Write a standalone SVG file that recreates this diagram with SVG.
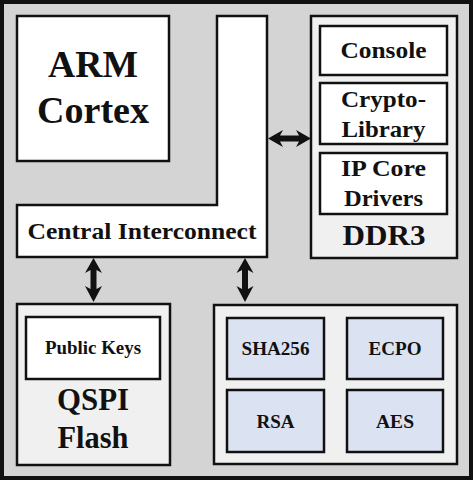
<svg xmlns="http://www.w3.org/2000/svg" width="474" height="481" viewBox="0 0 474 481" font-family="'Liberation Serif', 'Times New Roman', 'DejaVu Serif', serif">
<style>
.box{stroke:#111;stroke-width:2.5}
.w{fill:#fff}
.p{fill:#f0f0f0}
.b{fill:#dbe2f1}
.t{font-weight:bold;fill:#111;text-anchor:middle}
.arr{fill:#111;stroke:none}
</style>
<rect x="2" y="2" width="469" height="476" fill="#d4d4d4" stroke="#111" stroke-width="4"/>
<g id="arm">
<rect class="box w" x="17" y="16" width="152" height="145"/>
<text class="t" x="93" y="77" font-size="38" textLength="90" lengthAdjust="spacingAndGlyphs">ARM</text>
<text class="t" x="93" y="123" font-size="38" textLength="112" lengthAdjust="spacingAndGlyphs">Cortex</text>
</g>
<g id="interconnect">
<path class="box w" d="M17,205 L217,205 L217,16 L267,16 L267,257 L17,257 Z"/>
<text class="t" x="142" y="239" font-size="24" textLength="229" lengthAdjust="spacingAndGlyphs">Central Interconnect</text>
</g>
<g id="ddr3">
<rect class="box p" x="311" y="16" width="146" height="242"/>
<rect class="box w" x="320" y="26" width="127" height="49"/>
<text class="t" x="383.5" y="58" font-size="24" textLength="86" lengthAdjust="spacingAndGlyphs">Console</text>
<rect class="box w" x="320" y="83" width="127" height="61"/>
<text class="t" x="383.5" y="107" font-size="24" textLength="85" lengthAdjust="spacingAndGlyphs">Crypto-</text>
<text class="t" x="383.5" y="137" font-size="24" textLength="84" lengthAdjust="spacingAndGlyphs">Library</text>
<rect class="box w" x="320" y="153" width="127" height="61"/>
<text class="t" x="383.5" y="176" font-size="24" textLength="85" lengthAdjust="spacingAndGlyphs">IP Core</text>
<text class="t" x="383.5" y="206" font-size="24" textLength="79" lengthAdjust="spacingAndGlyphs">Drivers</text>
<text class="t" x="384" y="245" font-size="30" textLength="83" lengthAdjust="spacingAndGlyphs">DDR3</text>
</g>
<g id="qspi">
<rect class="box p" x="17" y="304" width="153" height="161"/>
<rect class="box w" x="26" y="317" width="134" height="62"/>
<text class="t" x="93" y="354" font-size="19" textLength="96" lengthAdjust="spacingAndGlyphs">Public Keys</text>
<text class="t" x="93" y="410" font-size="31" textLength="72" lengthAdjust="spacingAndGlyphs">QSPI</text>
<text class="t" x="93" y="448" font-size="31" textLength="71" lengthAdjust="spacingAndGlyphs">Flash</text>
</g>
<g id="crypto">
<rect class="box p" x="214" y="305" width="243" height="159"/>
<g id="sha256">
<rect class="box b" x="227" y="318" width="97" height="61"/>
<text class="t" x="275.5" y="355" font-size="19" textLength="68" lengthAdjust="spacingAndGlyphs">SHA256</text>
</g>
<g id="ecpo">
<rect class="box b" x="347" y="318" width="96" height="61"/>
<text class="t" x="395" y="355" font-size="19" textLength="53" lengthAdjust="spacingAndGlyphs">ECPO</text>
</g>
<g id="rsa">
<rect class="box b" x="227" y="390" width="97" height="62"/>
<text class="t" x="275.5" y="428" font-size="19" textLength="38" lengthAdjust="spacingAndGlyphs">RSA</text>
</g>
<g id="aes">
<rect class="box b" x="347" y="390" width="96" height="62"/>
<text class="t" x="395" y="428" font-size="19" textLength="38" lengthAdjust="spacingAndGlyphs">AES</text>
</g>
</g>
<g id="connectors">
<polygon class="arr" points="268,138.5 283,130 280,135.5 299,135.5 296,130 311,138.5 296,147 299,141.5 280,141.5 283,147"/>
<polygon class="arr" points="93.5,258 85,273 90.5,270 90.5,289 85,286 93.5,302 102,286 96.5,289 96.5,270 102,273"/>
<polygon class="arr" points="245,258 236.5,273 242,270 242,289 236.5,286 245,302 253.5,286 248,289 248,270 253.5,273"/>
</g>
</svg>
